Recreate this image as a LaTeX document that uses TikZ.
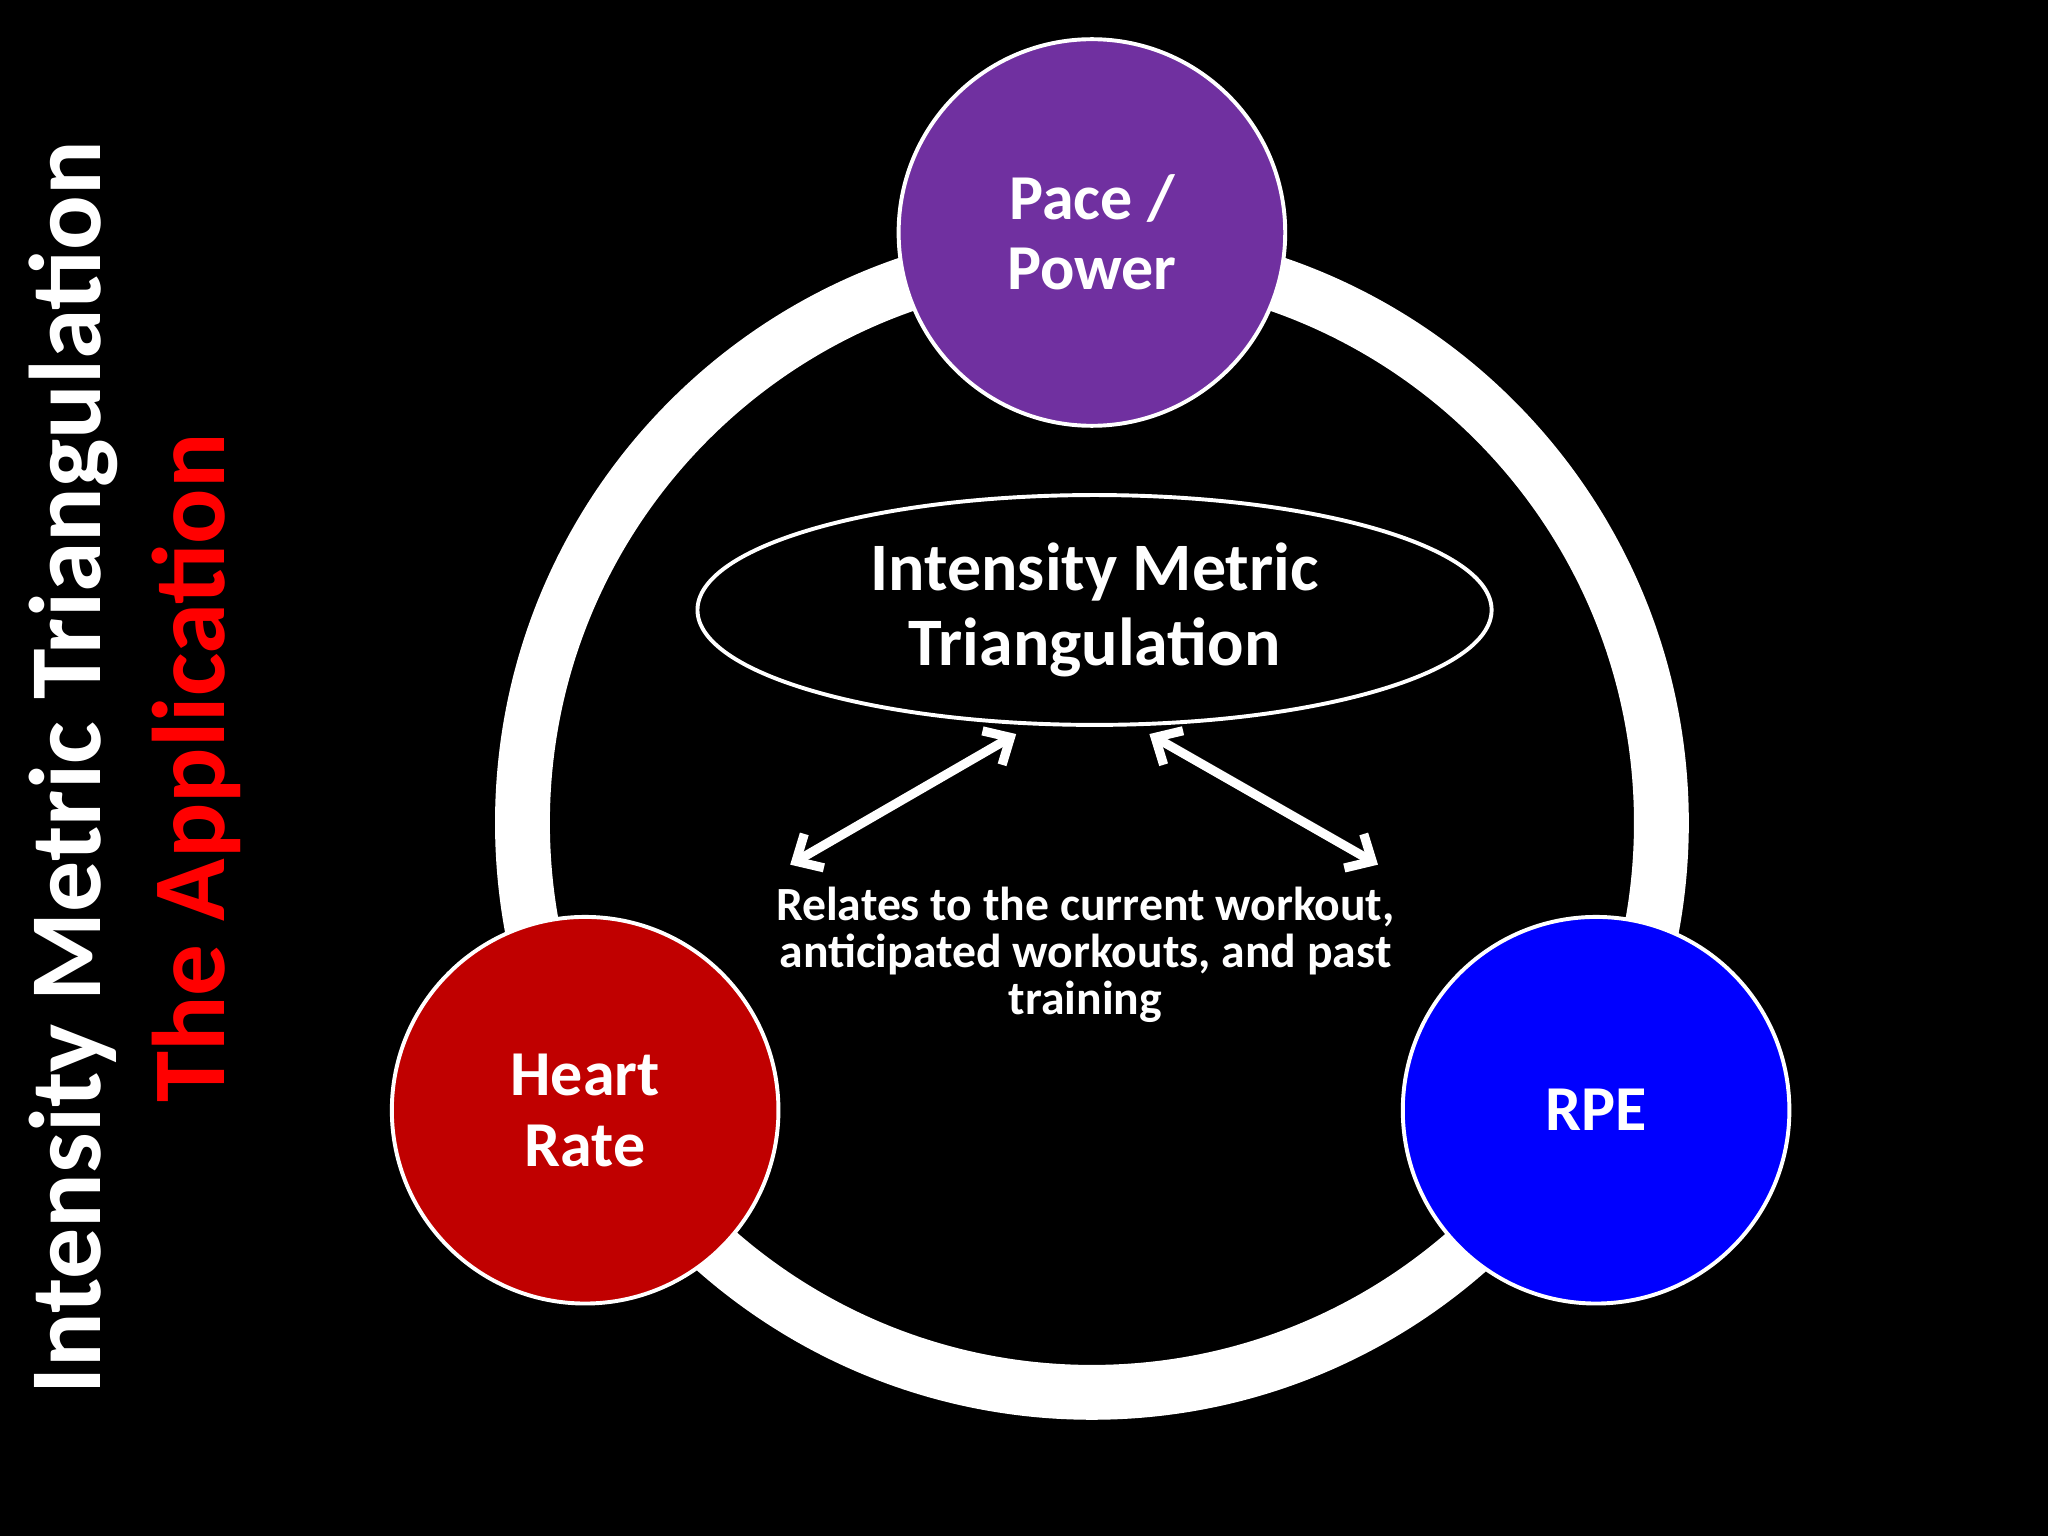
\documentclass[tikz,border=0pt]{standalone}
\usepackage{fontspec}
\setmainfont{Carlito}
\usetikzlibrary{arrows.meta,shapes.geometric}
\definecolor{pur}{HTML}{7030A0}
\definecolor{dred}{HTML}{C00000}
\definecolor{blu}{HTML}{0000FF}
\begin{document}
\begin{tikzpicture}[x=1pt,y=-1pt,
  metric/.style={circle,draw=white,line width=3pt,minimum size=296pt,inner sep=0pt,text=white,font=\fontsize{49}{54}\selectfont\bfseries,align=center},
  dbl/.style={white,line width=7pt,{Straight Barb[length=16pt,width=30pt]}-{Straight Barb[length=16pt,width=30pt]}}]
\fill[black] (0,0) rectangle (1568,1176);
\useasboundingbox (0,0) rectangle (1568,1176);
\draw[white,line width=42pt] (836,630) circle[radius=436];
\node[metric,fill=pur] (pp) at (836,178) {Pace /\\Power};
\node[metric,fill=dred] (hr) at (448,850) {Heart\\Rate};
\node[metric,fill=blu] (rpe) at (1222,850) {RPE};
\node[ellipse,draw=white,fill=black,line width=3pt,minimum width=608pt,minimum height=176pt,inner sep=0pt,text=white,font=\fontsize{52}{57}\selectfont\bfseries,align=center] (ell) at (838,467) {Intensity Metric\\Triangulation};
\coordinate (la) at (778,562); \coordinate (lb) at (605,662);
\coordinate (ra) at (880,562); \coordinate (rb) at (1055,662);
\draw[dbl] (la) -- (lb);
\draw[dbl] (ra) -- (rb);
\node[text=white,font=\fontsize{36.5}{36}\selectfont\bfseries,align=center] (rel) at (831,731) {Relates to the current workout,\\anticipated workouts, and past\\training};
\node[rotate=90,text=white,font=\fontsize{78}{80}\selectfont\bfseries] (t1) at (56,588) {Intensity Metric Triangulation};
\node[rotate=90,text=red,font=\fontsize{79}{80}\selectfont\bfseries] (t2) at (150,588) {The Application};
\end{tikzpicture}
\end{document}
